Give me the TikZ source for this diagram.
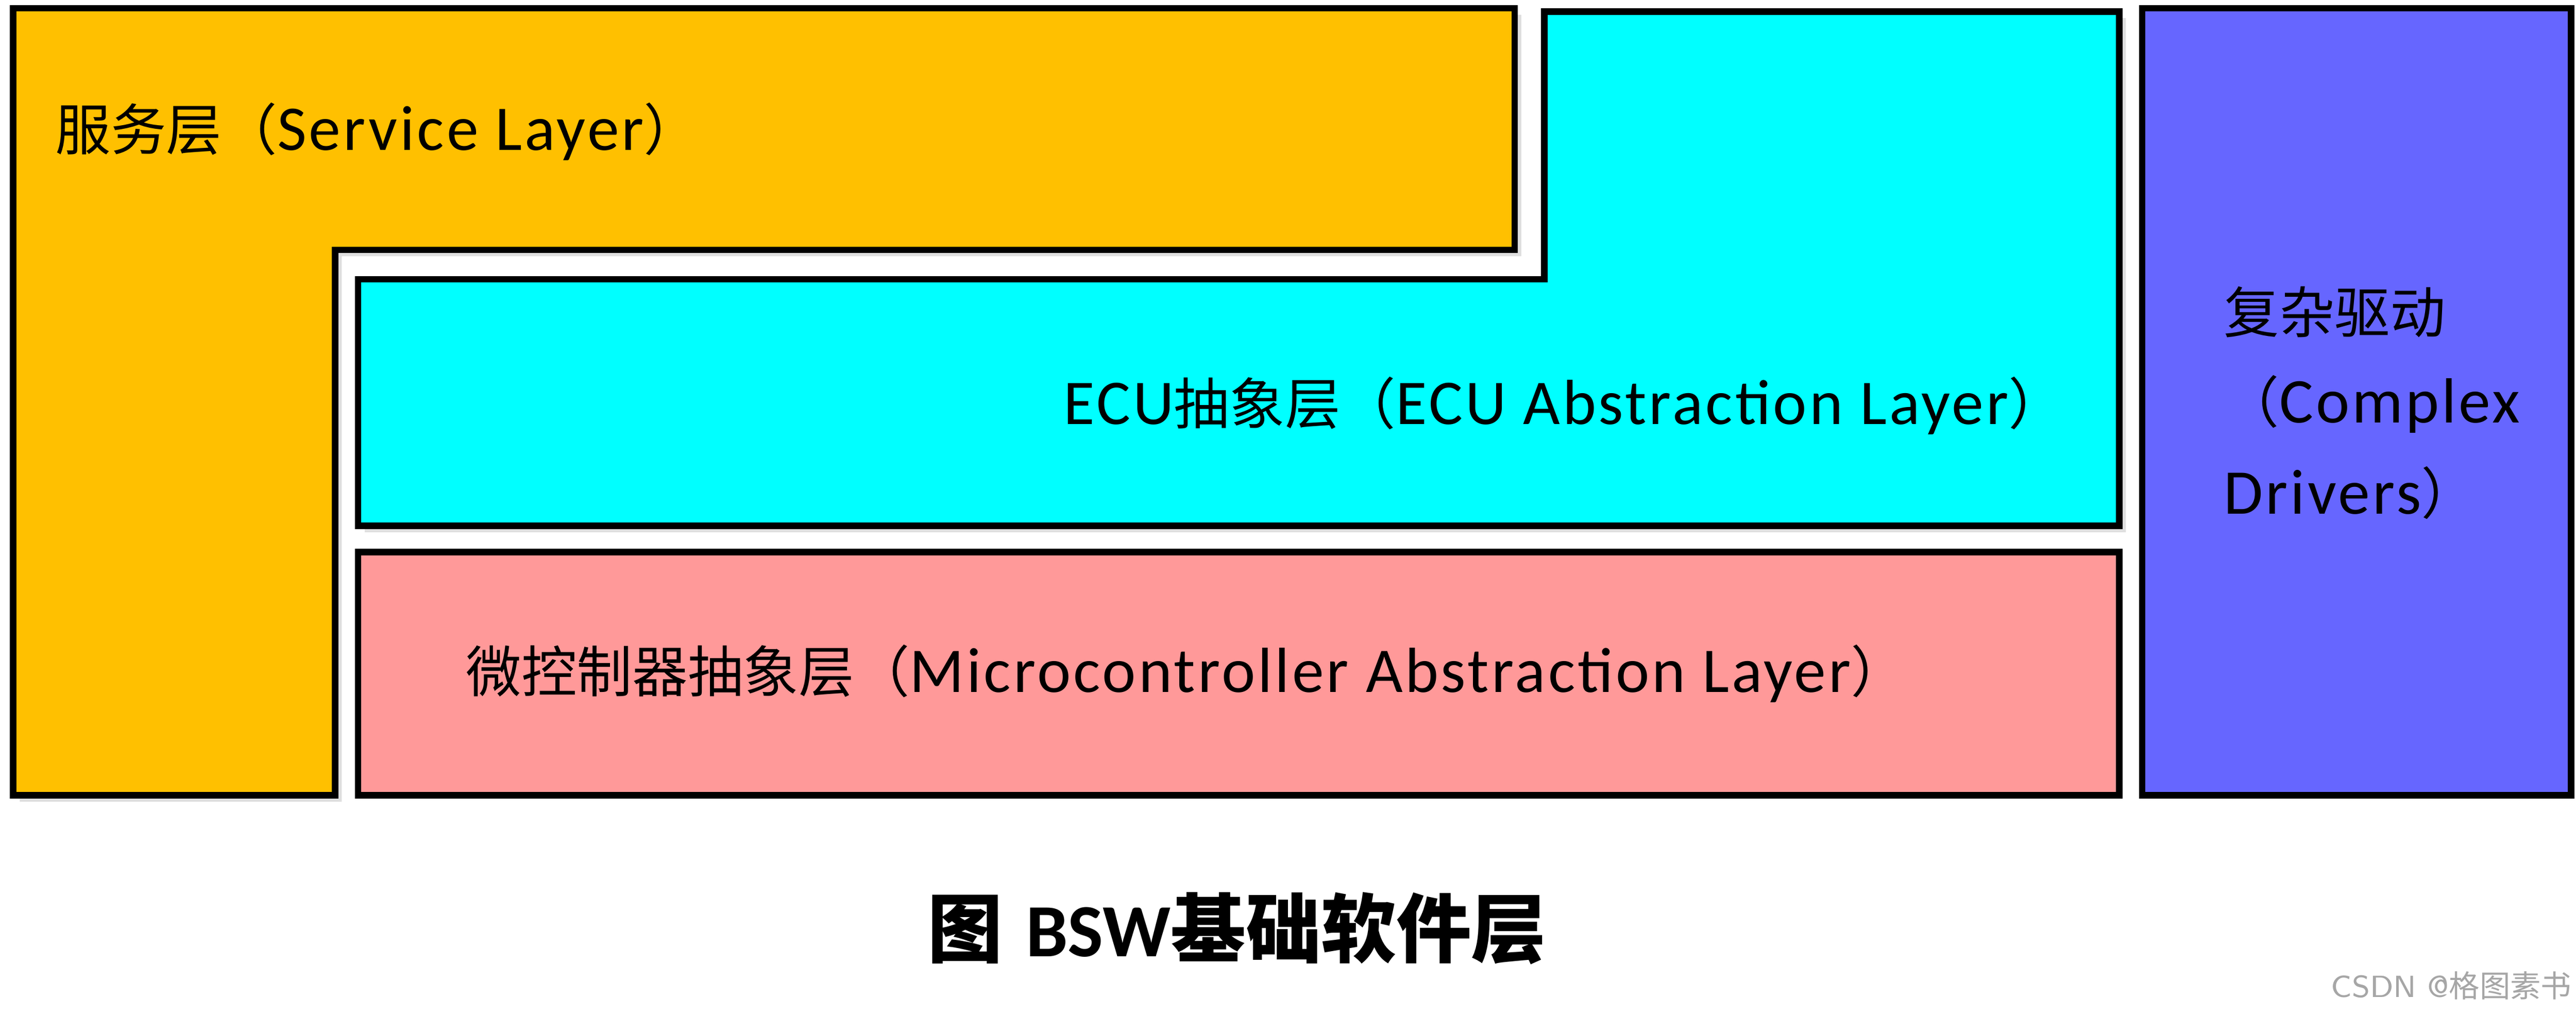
\documentclass[tikz,border=0pt]{standalone}
\usepackage{fontspec}
\setmainfont{Carlito}[Scale=1.15,LetterSpace=4]
\newfontfamily\capf{Carlito}[Scale=1.0]
\newfontfamily\zhf{Noto Sans CJK SC}
\newcommand{\zh}[1]{{\zhf #1}}
\definecolor{svc}{HTML}{FFC000}
\definecolor{ecu}{HTML}{00FFFF}
\definecolor{mcal}{HTML}{FF9999}
\definecolor{cdd}{HTML}{6666FF}
\begin{document}
\begin{tikzpicture}[x=0.01cm,y=-0.01cm,
  box/.style={draw=black,line width=1.1pt,line join=miter},
  lbl/.style={font=\fontsize{9.6}{11}\selectfont,inner sep=0pt}]
\useasboundingbox (0,0) rectangle (1568,617);
\fill[gray!25] (12,9) -- (926,9) -- (926,156) -- (208,156) -- (208,488) -- (12,488) -- cycle;
\draw[box,fill=svc] (8,5) -- (922,5) -- (922,152) -- (204,152) -- (204,484) -- (8,484) -- cycle;
\fill[gray!25] (944,11) -- (1294,11) -- (1294,324) -- (222,324) -- (222,174) -- (944,174) -- cycle;
\draw[box,fill=ecu] (940,7) -- (1290,7) -- (1290,320) -- (218,320) -- (218,170) -- (940,170) -- cycle;
\draw[box,fill=mcal] (218,336) rectangle (1290,484);
\draw[box,fill=cdd] (1304,5) rectangle (1565,484);
\node[lbl,anchor=west] (s) at (33,80) {\zh{服务层（}Service Layer\zh{）}};
\node[lbl,anchor=east] (e) at (1257,247) {ECU\zh{抽象层（}ECU Abstraction Layer\zh{）}};
\node[lbl,anchor=west] (m) at (283,410) {\zh{微控制器抽象层（}Microcontroller Abstraction Layer\zh{）}};
\node[lbl,anchor=west] (c1) at (1353,190) {\zh{复杂驱动}};
\node[lbl,anchor=west] (c2) at (1353,246) {\zh{（}Complex};
\node[lbl,anchor=west] (c3) at (1353,300) {Drivers\zh{）}};
\node[inner sep=0pt,font=\fontsize{13}{15}\selectfont\bfseries] (cap) at (753,565) {{\zhf\bfseries 图} {\capf\bfseries BSW}{\zhf\bfseries 基础软件层}};
\node[inner sep=0pt,anchor=east,text=gray!70,font=\fontsize{5.3}{6}\selectfont] (wm) at (1566,600) {\sffamily CSDN @\zh{格图素书}};
\end{tikzpicture}
\end{document}
